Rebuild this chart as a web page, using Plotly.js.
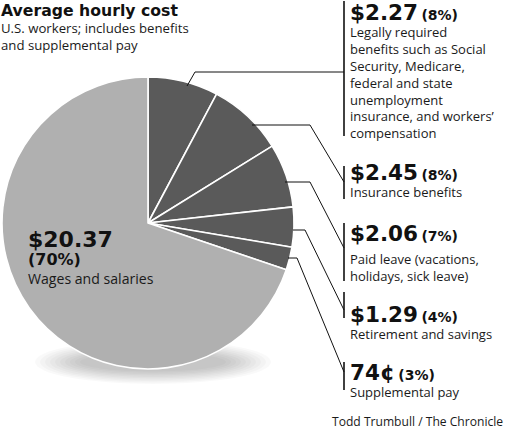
<!DOCTYPE html>
<html>
<head>
<meta charset="utf-8">
<script src="https://cdn.plot.ly/plotly-3.0.1.min.js"></script>
<style>
html,body{margin:0;padding:0;background:#fff;}
#chart{width:507px;height:432px;}
</style>
</head>
<body>
<div id="chart"></div>
<script>
// ---- data ----
var categories = ["Legally required benefits", "Insurance benefits", "Paid leave", "Retirement and savings", "Supplemental pay", "Wages and salaries"];
var values = [2.27, 2.45, 2.06, 1.29, 0.74, 20.37];
var valueLabels = ["$2.27", "$2.45", "$2.06", "$1.29", "74¢", "$20.37"];
var pctLabels = ["(8%)", "(8%)", "(7%)", "(4%)", "(3%)", "(70%)"];
var descriptionLines = [
  ["Legally required", "benefits such as Social", "Security, Medicare,", "federal and state", "unemployment", "insurance, and workers’", "compensation"],
  ["Insurance benefits"],
  ["Paid leave (vacations,", "holidays, sick leave)"],
  ["Retirement and savings"],
  ["Supplemental pay"],
  ["Wages and salaries"]
];
var sliceColors = ["#5a5a5a", "#5a5a5a", "#5a5a5a", "#5a5a5a", "#5a5a5a", "#b0b0b0"];

// ---- layout helpers (pixel -> paper) ----
var W = 507, H = 432;
function px(x){ return x / W; }
function py(y){ return 1 - y / H; }

var BODY = "Open Sans, Lato, sans-serif";
var HEADSTYLE = "font-family:DejaVu Sans;font-weight:bold;";
var cx = 148, cy = 223, r = 146;

var trace = {
  type: "pie",
  labels: categories,
  values: values,
  sort: false,
  direction: "clockwise",
  rotation: 0,
  textinfo: "none",
  hoverinfo: "label+value+percent",
  marker: { colors: sliceColors, line: { color: "#ffffff", width: 1.6 } },
  domain: { x: [px(cx - r), px(cx + r)], y: [py(cy + r), py(cy - r)] },
  showlegend: false
};

// label blocks on the right (top of each text block, in pixels)
var labelX = 350;
var blockTop = [0, 160, 221, 302, 360];
var splitBody = [false, false, true, false, false];
var splitBodyTop = [0, 0, 250, 0, 0];
var bars = [[1, 136], [166, 199], [223, 281], [292, 318], [362, 390]];
var leaders = [
  [[187, 86], [195, 72], [344, 72]],
  [[252, 125], [310, 125], [344, 182]],
  [[285, 182], [310, 182], [344, 248]],
  [[293, 230], [305, 230], [344, 310]],
  [[288, 258], [297, 258], [344, 372]]
];

var annotations = [];
var shapes = [];

function ann(x, y, text, size, extra){
  var a = {
    xref: "paper", yref: "paper", x: px(x), y: py(y), xanchor: "left", yanchor: "top", align: "left",
    text: text, showarrow: false, borderpad: 0, borderwidth: 0,
    font: { family: BODY, size: size, color: "#1a1a1a" }
  };
  if (extra) for (var k in extra) a[k] = extra[k];
  return a;
}

// soft shadow under the pie
for (var s = 0; s < 10; s++) {
  var rx = 118 - s * 5, ry = 22 - s * 1.4;
  shapes.push({
    type: "circle", xref: "paper", yref: "paper", layer: "below",
    x0: px(153 - rx), x1: px(153 + rx), y0: py(362 + ry), y1: py(362 - ry),
    fillcolor: "rgba(0,0,0,0.022)", line: { width: 0 }
  });
}

// title and subtitle
annotations.push(ann(1, 0.5, "Average hourly cost", 15.7,
  { font: { family: "DejaVu Sans, sans-serif", size: 15.7, color: "#111", weight: 700 } }));
annotations.push(ann(1, 19, "U.S. workers; includes benefits<br>and supplemental pay", 13.2));

function headerText(i){
  return '<span style="' + HEADSTYLE + 'font-size:21.5px;color:#111">' + valueLabels[i] + '</span>' +
         ' <span style="' + HEADSTYLE + 'font-size:14px;color:#111">' + pctLabels[i] + '</span>';
}

for (var i = 0; i < 5; i++) {
  var body = descriptionLines[i].join("<br>");
  if (splitBody[i]) {
    annotations.push(ann(labelX, blockTop[i], headerText(i), 13));
    annotations.push(ann(labelX, splitBodyTop[i], body, 13));
  } else {
    annotations.push(ann(labelX, blockTop[i], headerText(i) + "<br>" + body, 13));
  }
  shapes.push({
    type: "line", xref: "paper", yref: "paper",
    x0: px(344), x1: px(344), y0: py(bars[i][0]), y1: py(bars[i][1]),
    line: { color: "#111", width: 1.6 }
  });
  var pts = leaders[i];
  var d = "M " + px(pts[0][0]) + "," + py(pts[0][1]);
  for (var k = 1; k < pts.length; k++) d += " L " + px(pts[k][0]) + "," + py(pts[k][1]);
  shapes.push({ type: "path", xref: "paper", yref: "paper", path: d, line: { color: "#111", width: 1 } });
}

// wages label inside the pie
annotations.push(ann(28, 226.5,
  '<span style="' + HEADSTYLE + 'font-size:22px;color:#111">' + valueLabels[5] + '</span><br>' +
  '<span style="' + HEADSTYLE + 'font-size:16px;color:#111">' + pctLabels[5] + '</span><br>' +
  descriptionLines[5][0], 14.1));

// credit
annotations.push({
  xref: "paper", yref: "paper", x: px(503), y: py(421), xanchor: "right", yanchor: "middle",
  text: "Todd Trumbull / The Chronicle", showarrow: false, borderpad: 0, borderwidth: 0,
  font: { family: BODY, size: 12.1, color: "#1a1a1a" }
});

var layout = {
  width: W, height: H,
  margin: { l: 0, r: 0, t: 0, b: 0, pad: 0 },
  paper_bgcolor: "#ffffff",
  plot_bgcolor: "#ffffff",
  showlegend: false,
  annotations: annotations,
  shapes: shapes
};

Plotly.newPlot("chart", [trace], layout, { displayModeBar: false, staticPlot: true });
</script>
</body>
</html>
